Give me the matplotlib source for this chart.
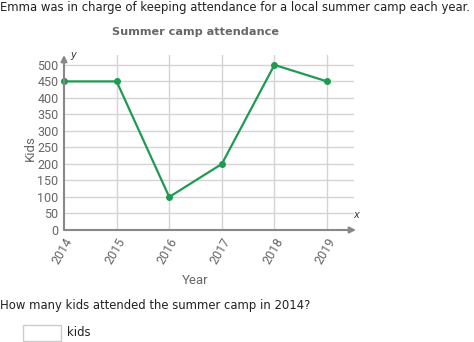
import matplotlib.pyplot as plt
from matplotlib.patches import Rectangle

years = [2014, 2015, 2016, 2017, 2018, 2019]
kids = [450, 450, 100, 200, 500, 450]
y_ticks = [0, 50, 100, 150, 200, 250, 300, 350, 400, 450, 500]

green = '#1f9a52'
gray = '#666666'
grid_gray = '#d4d4d4'
axis_gray = '#888888'

fig = plt.figure(figsize=(4.74, 3.42), dpi=100)
W, H = 474.0, 342.0

# axes placed in pixel terms
x0, x1 = 64, 356
y0, y1 = 230, 55
ax = fig.add_axes([x0 / W, 1 - y0 / H, (x1 - x0) / W, (y0 - y1) / H])
ax.set_xlim(2014, 2019.55)
ax.set_ylim(0, 530)

for yv in y_ticks[1:]:
    ax.plot([2014, 2019.5], [yv, yv], color=grid_gray, lw=1, zorder=1)
for xv in years[1:]:
    ax.plot([xv, xv], [0, 530], color=grid_gray, lw=1, zorder=1)

ax.plot(years, kids, color=green, lw=1.6, marker='o', markersize=4, zorder=3, clip_on=False)

for s in ax.spines.values():
    s.set_visible(False)

# axis lines with arrows
ax.annotate('', xy=(1.0, 0), xytext=(0, 0), xycoords='axes fraction',
            arrowprops=dict(arrowstyle='-|>', color=axis_gray, lw=1.5, mutation_scale=9,
                            shrinkA=0, shrinkB=0))
ax.annotate('', xy=(0, 1.0), xytext=(0, 0), xycoords='axes fraction',
            arrowprops=dict(arrowstyle='-|>', color=axis_gray, lw=1.5, mutation_scale=9,
                            shrinkA=0, shrinkB=0))
ax.text(1.0, 0.06, 'x', transform=ax.transAxes, fontsize=7, style='italic', color='#333333',
        ha='center', va='bottom')
ax.text(0.02, 1.0, 'y', transform=ax.transAxes, fontsize=7, style='italic', color='#333333',
        ha='left', va='center')

ax.set_xticks(years)
ax.set_xticklabels([str(y) for y in years], rotation=60, ha='right', va='top',
                   rotation_mode='anchor', fontsize=9, color=gray, family='Roboto')
ax.set_yticks(y_ticks)
ax.set_yticklabels([str(v) for v in y_ticks], fontsize=9, color=gray, family='Roboto')
ax.tick_params(length=0, pad=4)

fig.text(30 / W, 1 - 148 / H, 'Kids', rotation=90, ha='center', va='center',
         fontsize=9.5, color=gray, family='Roboto')
fig.text(195 / W, 1 - 280 / H, 'Year', ha='center', va='center',
         fontsize=9.5, color=gray, family='Roboto')
fig.text(195 / W, 1 - 32 / H, 'Summer camp attendance', ha='center', va='center',
         fontsize=8.1, color=gray, weight='bold')

fig.text(0, 1 - 8 / H, 'Emma was in charge of keeping attendance for a local summer camp each year.',
         ha='left', va='center', fontsize=8.35, color='#222222')
fig.text(0, 1 - 306 / H, 'How many kids attended the summer camp in 2014?',
         ha='left', va='center', fontsize=8.4, color='#222222')
fig.patches.append(Rectangle((23 / W, 1 - 341 / H), 38 / W, 16 / H, transform=fig.transFigure,
                             fill=False, edgecolor='#cccccc', lw=1))
fig.text(67 / W, 1 - 333 / H, 'kids', ha='left', va='center', fontsize=8.4, color='#222222')

fig.savefig('out.png', dpi=100)
